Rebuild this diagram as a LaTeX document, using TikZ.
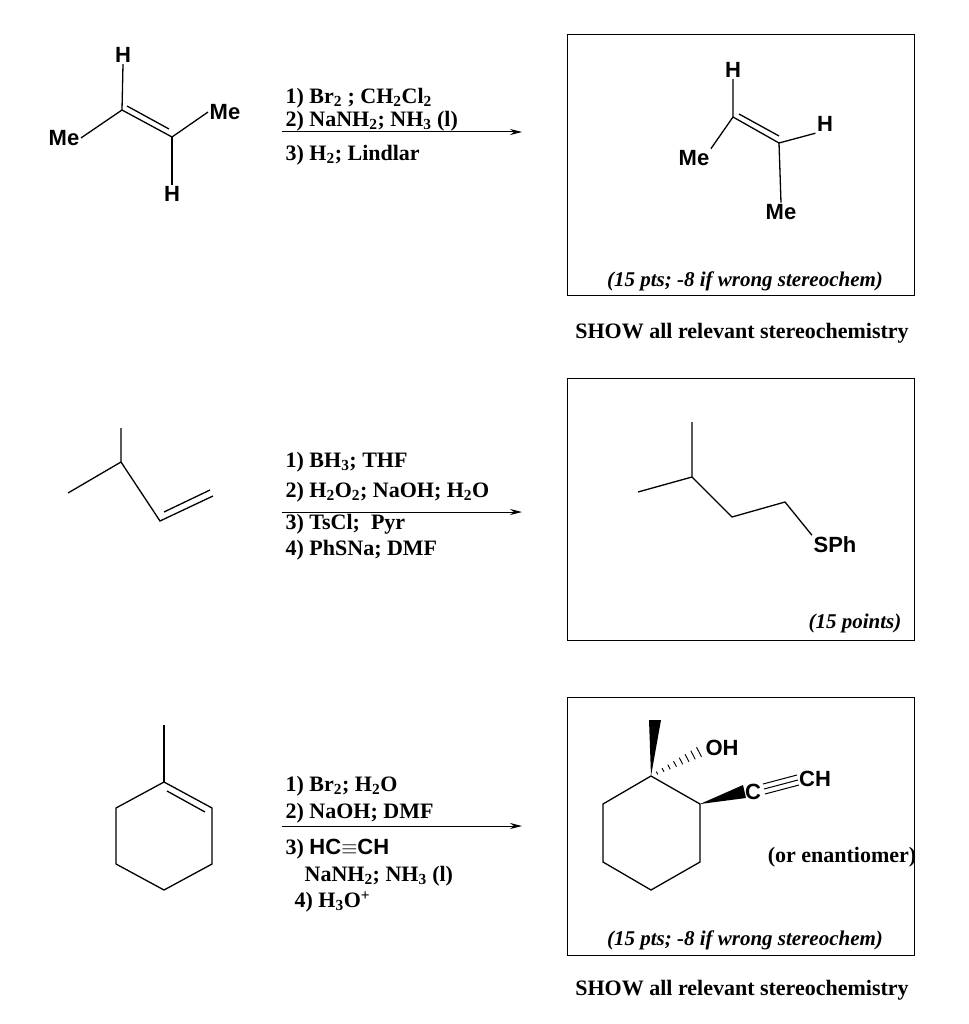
\documentclass[tikz,border=0pt]{standalone}
\usepackage{fontspec}
\setmainfont{Liberation Serif}
\setsansfont{Liberation Sans}
\usetikzlibrary{arrows.meta,calc}
\newcommand{\sbs}[1]{\textsubscript{#1}}
\begin{document}
\begin{tikzpicture}[x=1pt,y=-1pt,line width=1.3pt,
  bd/.style={line width=1.3pt},
  atom/.style={font=\fontsize{22}{24}\selectfont\sffamily\bfseries,inner sep=1pt},
  rg/.style={font=\fontsize{22}{24}\selectfont\bfseries,anchor=west,inner sep=0pt},
  note/.style={font=\fontsize{21}{24}\selectfont\bfseries\itshape,inner sep=0pt},
  bx/.style={draw,line width=1pt},
  arr/.style={-{Stealth[length=12pt,width=6pt]},line width=1pt}]
\useasboundingbox (0,0) rectangle (968,1024);
% ---------- reaction 1
\coordinate (a1) at (122,110); \coordinate (a2) at (172,137);
\node[atom] (aH1) at (123,55) {H};
\node[atom] (aH2) at (172,194) {H};
\node[atom] (aMe1) at (64,138) {Me};
\node[atom] (aMe2) at (225,112) {Me};
\draw[bd] (aH1.south) -- (a1) -- (aMe1.east);
\draw[bd] (a1) -- (a2) -- (aMe2.west);
\draw[bd] (a2) -- (aH2.north);
\draw[bd] (127,106) -- (169,129);
\coordinate (r1s) at (282,132); \coordinate (r1e) at (522,132);
\draw[arr] (r1s) -- (r1e);
\node[rg] (r1a) at (285,98) {1) Br\sbs{2} ; CH\sbs{2}Cl\sbs{2}};
\node[rg] (r1b) at (285,121) {2) NaNH\sbs{2}; NH\sbs{3} (l)};
\node[rg] (r1c) at (285,155) {3) H\sbs{2}; Lindlar};
\draw[bx] (567,35) rectangle (914,295);
\coordinate (p1) at (733,117); \coordinate (p2) at (779,143);
\node[atom] (pH1) at (733,70) {H};
\node[atom] (pH2) at (825,124) {H};
\node[atom] (pMe1) at (694,158) {Me};
\node[atom] (pMe2) at (781,212) {Me};
\draw[bd] (pH1.south) -- (p1) -- (pMe1.north east);
\draw[bd] (p1) -- (p2) -- (pH2.south west);
\draw[bd] (p2) -- (pMe2.north);
\draw[bd] (739,114) -- (779,136);
\node[note] (n1) at (745,281) {(15 pts; -8 if wrong stereochem)};
\node[rg,anchor=center] (s1) at (742,333) {SHOW all relevant stereochemistry};
% ---------- reaction 2
\coordinate (b0) at (121,428); \coordinate (b1) at (121,462);
\coordinate (b2) at (68,493); \coordinate (b3) at (160,521); \coordinate (b4) at (213,496);
\draw[bd] (b0) -- (b1) -- (b2); \draw[bd] (b1) -- (b3) -- (b4);
\draw[bd] (164,512) -- (210,490);
\draw[arr] (282,512) -- (522,512);
\node[rg] (r2a) at (285,462) {1) BH\sbs{3}; THF};
\node[rg] (r2b) at (285,492) {2) H\sbs{2}O\sbs{2}; NaOH; H\sbs{2}O};
\node[rg] (r2c) at (285,524) {3) TsCl;\ \ Pyr};
\node[rg] (r2d) at (285,550) {4) PhSNa; DMF};
\draw[bx] (567,378) rectangle (914,640);
\coordinate (q0) at (692,422); \coordinate (q1) at (692,477);
\coordinate (q2) at (638,492); \coordinate (q3) at (732,517); \coordinate (q4) at (785,502);
\node[atom] (qS) at (835,545) {SPh};
\draw[bd] (q0) -- (q1) -- (q2); \draw[bd] (q1) -- (q3) -- (q4) -- (qS.north west);
\node[note] (n2) at (855,623) {(15 points)};
% ---------- reaction 3
\coordinate (c0) at (164,725); \coordinate (c1) at (164,782); \coordinate (c2) at (212,808);
\coordinate (c3) at (212,864); \coordinate (c4) at (164,890); \coordinate (c5) at (116,864); \coordinate (c6) at (116,808);
\draw[bd] (c0) -- (c1);
\draw[bd] (c1) -- (c2) -- (c3) -- (c4) -- (c5) -- (c6) -- cycle;
\draw[bd] (167,791) -- (205,812);
\draw[arr] (282,826) -- (522,826);
\node[rg] (r3a) at (285,786) {1) Br\sbs{2}; H\sbs{2}O};
\node[rg] (r3b) at (285,813) {2) NaOH; DMF};
\node[rg] (r3c) at (285,849) {3) \textsf{HC$\equiv$CH}};
\node[rg] (r3d) at (304,876) {NaNH\sbs{2}; NH\sbs{3} (l)};
\node[rg] (r3e) at (294,902) {4) H\sbs{3}O\textsuperscript{+}};
\draw[bx] (567,697) rectangle (914,955);
\coordinate (d1) at (651,776); \coordinate (d2) at (700,804); \coordinate (d3) at (700,862);
\coordinate (d4) at (651,890); \coordinate (d5) at (603,862); \coordinate (d6) at (603,804);
\draw[bd] (d1) -- (d2) -- (d3) -- (d4) -- (d5) -- (d6) -- cycle;
\fill (d1) -- (649,720) -- (661,720) -- cycle;
\node[atom] (dOH) at (722,748) {OH};
\coordinate (dh) at (705,749);
\node[atom] (dC) at (753,792) {C};
\node[atom] (dCH) at (815,779) {CH};
\fill (d2) -- (743,785) -- (746,798) -- cycle;
\draw[line width=1pt] (763,784) -- (797,775) (764,789) -- (798,780) (765,794) -- (799,785);
\node[rg,anchor=center] (en) at (842,857) {(or enantiomer)};
\node[note] (n3) at (745,940) {(15 pts; -8 if wrong stereochem)};
\node[rg,anchor=center] (s3) at (742,990) {SHOW all relevant stereochemistry};
% hashed bond
\foreach \i in {1,...,8}{
  \pgfmathsetmacro{\tt}{\i/9}
  \pgfmathsetmacro{\hw}{1+5*\tt}
  \draw[line width=0.9pt] ($(d1)!\tt!(dh)+(\hw*0.45,\hw*0.89)$) -- ($(d1)!\tt!(dh)-(\hw*0.45,\hw*0.89)$);}
\end{tikzpicture}
\end{document}
